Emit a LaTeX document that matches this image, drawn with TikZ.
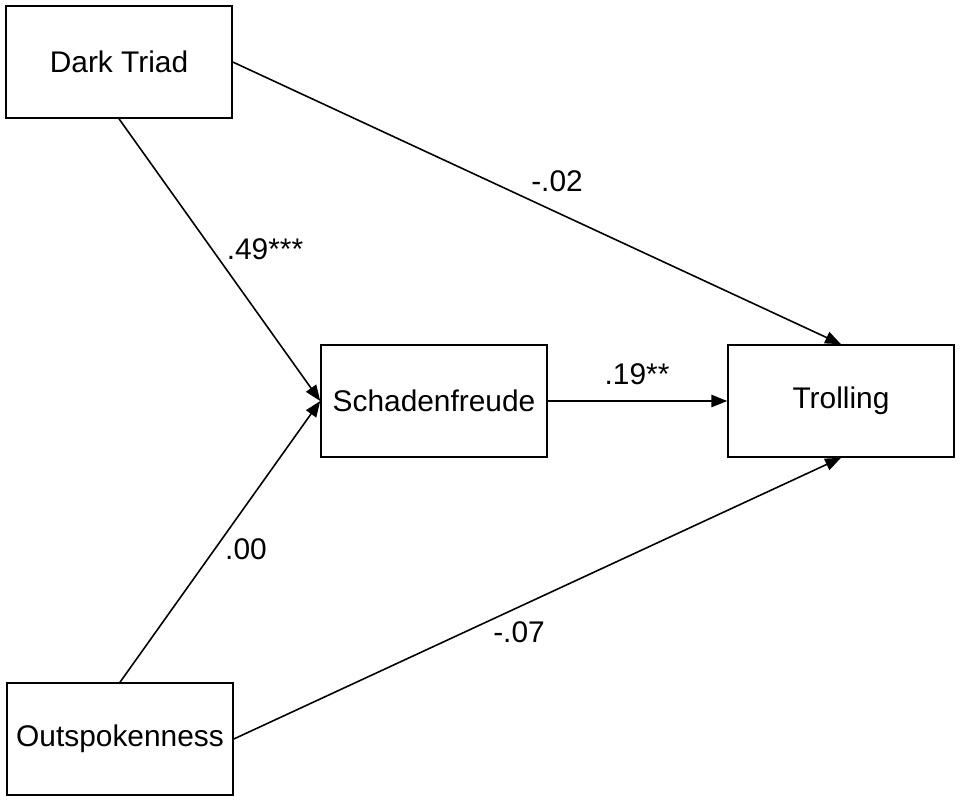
\documentclass[tikz,border=0pt]{standalone}
\usepackage{fontspec}
\setmainfont{Liberation Sans}
\usetikzlibrary{arrows.meta, positioning}

\begin{document}
\begin{tikzpicture}[x=0.02cm, y=-0.02cm,
                    Box/.style={draw, line width=0.9pt, minimum width=4.52cm, minimum height=2.24cm, font=\fontsize{17}{20}\selectfont},
                    effect/.style={-{Triangle[length=9pt, width=7pt]}, line width=0.9pt},
                    coef/.style={font=\fontsize{17}{20}\selectfont}
                    ]
    \useasboundingbox (0,0) rectangle (960,802);

    % BOXES %
    \node[Box] (dark) at (119,62) {Dark Triad};
    \node[Box] (schad) at (434,401) {Schadenfreude};
    \node[Box] (troll) at (841,401) {Trolling};
    \node[Box] (outsp) at (120,739) {Outspokenness};

    % PATHS %
    \draw[effect] (dark.south) -- (schad.west);
    \draw[effect] (outsp.north) -- (schad.west);
    \draw[effect] (dark.east) -- (troll.north);
    \draw[effect] (outsp.east) -- (troll.south);
    \draw[effect] (schad.east) -- (troll.west);

    % COEFFICIENTS %
    \node[coef] (c1) at (265,249) {.49***};
    \node[coef] (c2) at (557,181) {-.02};
    \node[coef] (c3) at (637,374) {.19**};
    \node[coef] (c4) at (246,549) {.00};
    \node[coef] (c5) at (519,632) {-.07};
\end{tikzpicture}
\end{document}
